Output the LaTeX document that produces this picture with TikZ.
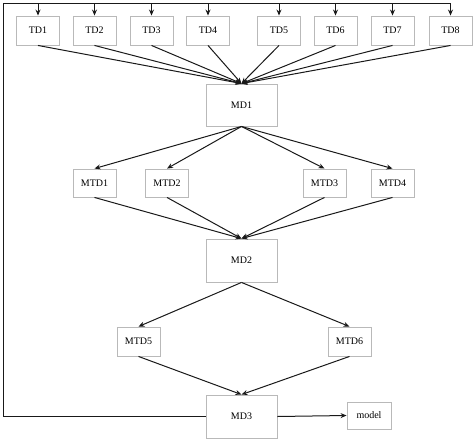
\documentclass[tikz,border=0pt]{standalone}
\usepackage{fontspec}
\setmainfont{Liberation Serif}
\usetikzlibrary{arrows.meta}
\begin{document}
\begin{tikzpicture}[x=1pt,y=-1pt,
  box/.style={draw=gray!55, line width=0.9pt, fill=white, inner sep=0pt, font=\fontsize{10}{12}\selectfont},
  tdbox/.style={box, minimum width=43pt, minimum height=29pt},
  mtdbox/.style={box, minimum width=43pt, minimum height=28pt},
  mdbox/.style={box, minimum width=71pt, minimum height=43pt},
  wire/.style={draw=black!90, line width=1pt},
  link/.style={wire, -{Stealth[length=6pt,width=5pt]}}]
\useasboundingbox (0,0) rectangle (474,439);
% top row
\node[tdbox] (TD1) at (38,30.5) {TD1};
\node[tdbox] (TD2) at (94.5,30.5) {TD2};
\node[tdbox] (TD3) at (151.5,30.5) {TD3};
\node[tdbox] (TD4) at (208,30.5) {TD4};
\node[tdbox] (TD5) at (279,30.5) {TD5};
\node[tdbox] (TD6) at (335.5,30.5) {TD6};
\node[tdbox] (TD7) at (392.5,30.5) {TD7};
\node[tdbox] (TD8) at (450.5,30.5) {TD8};
% MD1
\node[mdbox, minimum height=42pt] (MD1) at (241.5,105) {MD1};
% MTD row
\node[mtdbox] (MTD1) at (94.5,183) {MTD1};
\node[mtdbox] (MTD2) at (167,183) {MTD2};
\node[mtdbox] (MTD3) at (324.5,183) {MTD3};
\node[mtdbox] (MTD4) at (392.5,183) {MTD4};
% MD2
\node[mdbox] (MD2) at (241.5,260.5) {MD2};
% MTD5/6
\node[tdbox] (MTD5) at (138.5,341.5) {MTD5};
\node[tdbox] (MTD6) at (349.5,341.5) {MTD6};
% MD3 and model
\node[mdbox] (MD3) at (241.5,416.5) {MD3};
\node[box, minimum width=44pt, minimum height=27pt] (model) at (369,415.5) {model};
% feedback loop
\coordinate (fbL) at (3,416.5);
\coordinate (fbT) at (3,3);
\coordinate (fbR) at (450.5,3);
\draw[wire] (MD3.west) -- (fbL) -- (fbT) -- (fbR);
\foreach \n in {TD1,TD2,TD3,TD4,TD5,TD6,TD7,TD8}
  \draw[link] (\n.north |- fbT) -- (\n.north);
% TD -> MD1
\foreach \n in {TD1,TD2,TD3,TD4,TD5,TD6,TD7,TD8}
  \draw[link] (\n.south) -- (MD1.north);
% MD1 -> MTD
\foreach \n in {MTD1,MTD2,MTD3,MTD4}
  \draw[link] (MD1.south) -- (\n.north);
% MTD -> MD2
\foreach \n in {MTD1,MTD2,MTD3,MTD4}
  \draw[link] (\n.south) -- (MD2.north);
% MD2 -> MTD5/6
\draw[link] (MD2.south) -- (MTD5.north);
\draw[link] (MD2.south) -- (MTD6.north);
% MTD5/6 -> MD3
\draw[link] (MTD5.south) -- (MD3.north);
\draw[link] (MTD6.south) -- (MD3.north);
% MD3 -> model
\draw[link] (MD3.east) -- (model.west);
\end{tikzpicture}
\end{document}
